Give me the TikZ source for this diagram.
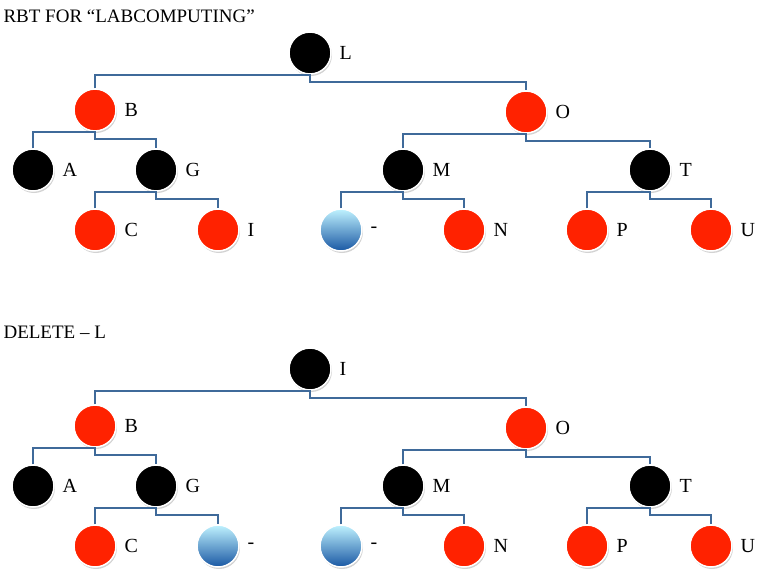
\documentclass[tikz,border=0pt]{standalone}
\usepackage{fontspec}
\setmainfont{Liberation Serif}
\usetikzlibrary{shadows}
\definecolor{redn}{HTML}{FF2200}
\definecolor{edge}{HTML}{3F6A9A}
\tikzset{
 nd/.style={circle,minimum size=42pt,inner sep=0pt,draw=white,line width=1.5pt,drop shadow={opacity=0.35,shadow xshift=1pt,shadow yshift=-2pt}},
 bk/.style={nd,fill=black},
 rd/.style={nd,fill=redn},
 bl/.style={nd,top color=blue!20!cyan!25,bottom color=blue!55!cyan!60!black!90},
 lb/.style={font=\fontsize{20}{24}\selectfont,anchor=west},
 ttl/.style={font=\fontsize{19}{22}\selectfont,anchor=west},
 ln/.style={draw=edge,line width=1.6pt}
}
\newcommand\conn[3]{%
 \draw[ln] (#2.north) -- ($(#2|-#1)+(0,22)$) -- ($(#1)+(0,22)$) -- ($(#1)+(0,29)$) -- ($(#3|-#1)+(0,29)$) -- (#3.north);}
\usetikzlibrary{calc}
\begin{document}
\begin{tikzpicture}[x=1pt,y=-1pt]
\useasboundingbox (0,0) rectangle (765,579);
\node[ttl] (t1) at (0,16) {RBT FOR “LABCOMPUTING”};
\node[ttl] (t2) at (0,332) {DELETE – L};
% tree 1
\node[bk] (aL) at (310,53) {}; \node[lb] at (336,53) {L};
\node[rd] (aB) at (95,110) {}; \node[lb] at (121,110) {B};
\node[rd] (aO) at (526,112) {}; \node[lb] at (552,112) {O};
\node[bk] (aA) at (33,170) {}; \node[lb] at (59,170) {A};
\node[bk] (aG) at (156,170) {}; \node[lb] at (182,170) {G};
\node[bk] (aM) at (403,170) {}; \node[lb] at (429,170) {M};
\node[bk] (aT) at (650,170) {}; \node[lb] at (676,170) {T};
\node[rd] (aC) at (95,230) {}; \node[lb] at (121,230) {C};
\node[rd] (aI) at (218,230) {}; \node[lb] at (244,230) {I};
\node[bl] (aX) at (341,230) {}; \node[lb] at (367,230) {-};
\node[rd] (aN) at (464,230) {}; \node[lb] at (490,230) {N};
\node[rd] (aP) at (587,230) {}; \node[lb] at (613,230) {P};
\node[rd] (aU) at (711,230) {}; \node[lb] at (737,230) {U};
\conn{aL}{aB}{aO}\conn{aB}{aA}{aG}\conn{aO}{aM}{aT}
\conn{aG}{aC}{aI}\conn{aM}{aX}{aN}\conn{aT}{aP}{aU}
% tree 2
\node[bk] (bL) at (310,369) {}; \node[lb] at (336,369) {I};
\node[rd] (bB) at (95,426) {}; \node[lb] at (121,426) {B};
\node[rd] (bO) at (526,428) {}; \node[lb] at (552,428) {O};
\node[bk] (bA) at (33,486) {}; \node[lb] at (59,486) {A};
\node[bk] (bG) at (156,486) {}; \node[lb] at (182,486) {G};
\node[bk] (bM) at (403,486) {}; \node[lb] at (429,486) {M};
\node[bk] (bT) at (650,486) {}; \node[lb] at (676,486) {T};
\node[rd] (bC) at (95,546) {}; \node[lb] at (121,546) {C};
\node[bl] (bI) at (218,546) {}; \node[lb] at (244,546) {-};
\node[bl] (bX) at (341,546) {}; \node[lb] at (367,546) {-};
\node[rd] (bN) at (464,546) {}; \node[lb] at (490,546) {N};
\node[rd] (bP) at (587,546) {}; \node[lb] at (613,546) {P};
\node[rd] (bU) at (711,546) {}; \node[lb] at (737,546) {U};
\conn{bL}{bB}{bO}\conn{bB}{bA}{bG}\conn{bO}{bM}{bT}
\conn{bG}{bC}{bI}\conn{bM}{bX}{bN}\conn{bT}{bP}{bU}
\end{tikzpicture}
\end{document}
